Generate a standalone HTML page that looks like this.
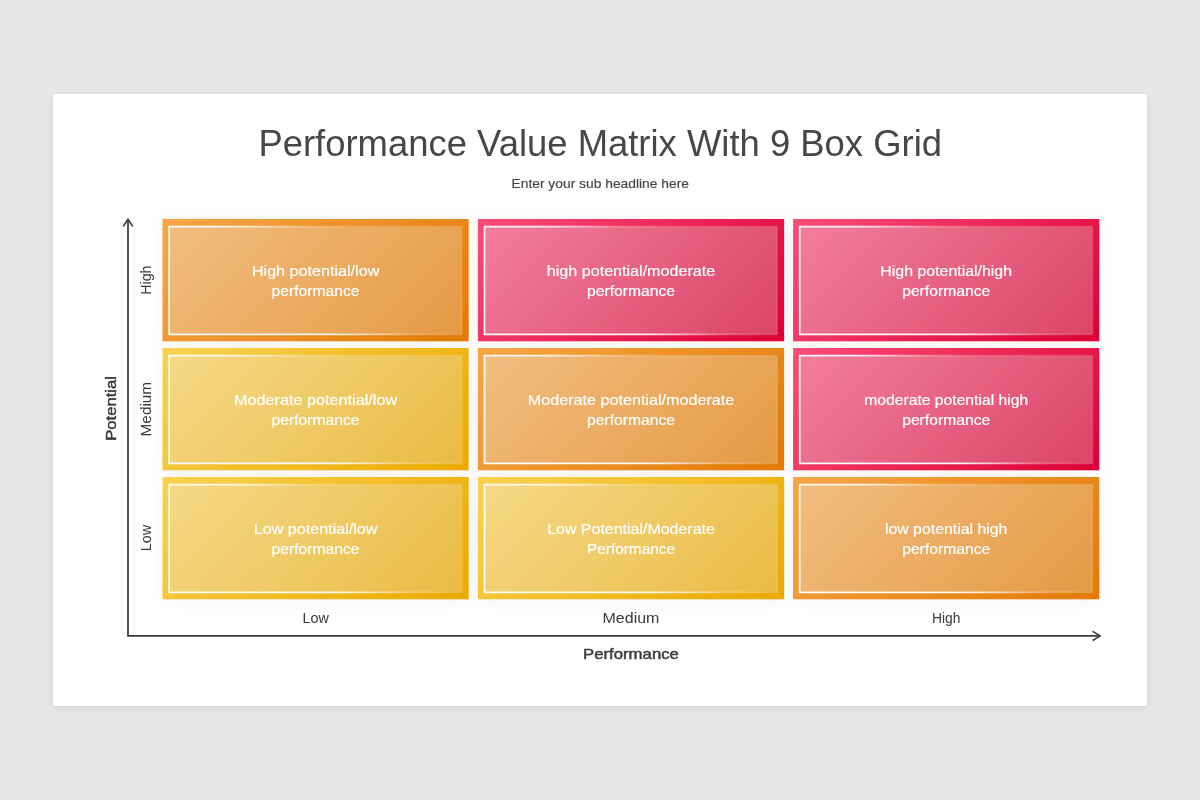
<!DOCTYPE html>
<html><head><meta charset="utf-8"><style>
html,body{margin:0;padding:0;}
body{width:1200px;height:800px;background:#e8e6e7;position:relative;overflow:hidden;}
.slide{position:absolute;left:53px;top:94px;width:1094px;height:612px;background:#fff;box-shadow:0 2px 7px rgba(0,0,0,0.10);}
svg{position:absolute;left:0;top:0;will-change:transform;}
text{font-family:"Liberation Sans",sans-serif;}
.bt{font-size:15.2px;fill:#fff;stroke:#fff;stroke-width:0.2px;}
.lb{font-size:14.6px;fill:#3a3a3a;}
.bl{font-size:14.6px;font-weight:normal;fill:#3a3a3a;stroke:#3a3a3a;stroke-width:0.45px;}
.ti{font-size:36px;fill:#474747;}
.st{font-size:12.6px;fill:#454545;stroke:#454545;stroke-width:0.15px;}
</style></head><body>
<div class="slide"></div>
<svg width="1200" height="800" viewBox="0 0 1200 800">
<defs><filter id="sh" x="-20%" y="-30%" width="140%" height="160%"><feGaussianBlur stdDeviation="9"/></filter><linearGradient id="b00o" gradientUnits="userSpaceOnUse" x1="162.50" y1="219.00" x2="376.75" y2="433.25"><stop offset="0" stop-color="#f7a646" stop-opacity="1"/><stop offset="1" stop-color="#e27a06" stop-opacity="1"/></linearGradient><linearGradient id="b00i" gradientUnits="userSpaceOnUse" x1="169.10" y1="226.60" x2="369.35" y2="426.85"><stop offset="0" stop-color="#f2bd80" stop-opacity="1"/><stop offset="1" stop-color="#e49a44" stop-opacity="1"/></linearGradient><linearGradient id="b00w" gradientUnits="userSpaceOnUse" x1="169.10" y1="334.40" x2="369.35" y2="134.15"><stop offset="0" stop-color="#fff" stop-opacity="1"/><stop offset="0.4" stop-color="#fff" stop-opacity="0.95"/><stop offset="0.5" stop-color="#fff" stop-opacity="0.65"/><stop offset="0.6" stop-color="#fff" stop-opacity="0.3"/><stop offset="0.72" stop-color="#fff" stop-opacity="0.14"/><stop offset="1" stop-color="#fff" stop-opacity="0.1"/></linearGradient><linearGradient id="b01o" gradientUnits="userSpaceOnUse" x1="477.90" y1="219.00" x2="692.15" y2="433.25"><stop offset="0" stop-color="#fc4c75" stop-opacity="1"/><stop offset="1" stop-color="#dc0036" stop-opacity="1"/></linearGradient><linearGradient id="b01i" gradientUnits="userSpaceOnUse" x1="484.50" y1="226.60" x2="684.75" y2="426.85"><stop offset="0" stop-color="#f27f9b" stop-opacity="1"/><stop offset="1" stop-color="#db4468" stop-opacity="1"/></linearGradient><linearGradient id="b01w" gradientUnits="userSpaceOnUse" x1="484.50" y1="334.40" x2="684.75" y2="134.15"><stop offset="0" stop-color="#fff" stop-opacity="1"/><stop offset="0.4" stop-color="#fff" stop-opacity="0.95"/><stop offset="0.5" stop-color="#fff" stop-opacity="0.65"/><stop offset="0.6" stop-color="#fff" stop-opacity="0.3"/><stop offset="0.72" stop-color="#fff" stop-opacity="0.14"/><stop offset="1" stop-color="#fff" stop-opacity="0.1"/></linearGradient><linearGradient id="b02o" gradientUnits="userSpaceOnUse" x1="793.10" y1="219.00" x2="1007.35" y2="433.25"><stop offset="0" stop-color="#fc4c75" stop-opacity="1"/><stop offset="1" stop-color="#dc0036" stop-opacity="1"/></linearGradient><linearGradient id="b02i" gradientUnits="userSpaceOnUse" x1="799.70" y1="226.60" x2="999.95" y2="426.85"><stop offset="0" stop-color="#f27f9b" stop-opacity="1"/><stop offset="1" stop-color="#db4468" stop-opacity="1"/></linearGradient><linearGradient id="b02w" gradientUnits="userSpaceOnUse" x1="799.70" y1="334.40" x2="999.95" y2="134.15"><stop offset="0" stop-color="#fff" stop-opacity="1"/><stop offset="0.4" stop-color="#fff" stop-opacity="0.95"/><stop offset="0.5" stop-color="#fff" stop-opacity="0.65"/><stop offset="0.6" stop-color="#fff" stop-opacity="0.3"/><stop offset="0.72" stop-color="#fff" stop-opacity="0.14"/><stop offset="1" stop-color="#fff" stop-opacity="0.1"/></linearGradient><linearGradient id="b10o" gradientUnits="userSpaceOnUse" x1="162.50" y1="348.00" x2="376.75" y2="562.25"><stop offset="0" stop-color="#fad250" stop-opacity="1"/><stop offset="1" stop-color="#eaa900" stop-opacity="1"/></linearGradient><linearGradient id="b10i" gradientUnits="userSpaceOnUse" x1="169.10" y1="355.60" x2="369.35" y2="555.85"><stop offset="0" stop-color="#f5d987" stop-opacity="1"/><stop offset="1" stop-color="#eabb44" stop-opacity="1"/></linearGradient><linearGradient id="b10w" gradientUnits="userSpaceOnUse" x1="169.10" y1="463.40" x2="369.35" y2="263.15"><stop offset="0" stop-color="#fff" stop-opacity="1"/><stop offset="0.4" stop-color="#fff" stop-opacity="0.95"/><stop offset="0.5" stop-color="#fff" stop-opacity="0.65"/><stop offset="0.6" stop-color="#fff" stop-opacity="0.3"/><stop offset="0.72" stop-color="#fff" stop-opacity="0.14"/><stop offset="1" stop-color="#fff" stop-opacity="0.1"/></linearGradient><linearGradient id="b11o" gradientUnits="userSpaceOnUse" x1="477.90" y1="348.00" x2="692.15" y2="562.25"><stop offset="0" stop-color="#f7a646" stop-opacity="1"/><stop offset="1" stop-color="#e27a06" stop-opacity="1"/></linearGradient><linearGradient id="b11i" gradientUnits="userSpaceOnUse" x1="484.50" y1="355.60" x2="684.75" y2="555.85"><stop offset="0" stop-color="#f2bd80" stop-opacity="1"/><stop offset="1" stop-color="#e49a44" stop-opacity="1"/></linearGradient><linearGradient id="b11w" gradientUnits="userSpaceOnUse" x1="484.50" y1="463.40" x2="684.75" y2="263.15"><stop offset="0" stop-color="#fff" stop-opacity="1"/><stop offset="0.4" stop-color="#fff" stop-opacity="0.95"/><stop offset="0.5" stop-color="#fff" stop-opacity="0.65"/><stop offset="0.6" stop-color="#fff" stop-opacity="0.3"/><stop offset="0.72" stop-color="#fff" stop-opacity="0.14"/><stop offset="1" stop-color="#fff" stop-opacity="0.1"/></linearGradient><linearGradient id="b12o" gradientUnits="userSpaceOnUse" x1="793.10" y1="348.00" x2="1007.35" y2="562.25"><stop offset="0" stop-color="#fc4c75" stop-opacity="1"/><stop offset="1" stop-color="#dc0036" stop-opacity="1"/></linearGradient><linearGradient id="b12i" gradientUnits="userSpaceOnUse" x1="799.70" y1="355.60" x2="999.95" y2="555.85"><stop offset="0" stop-color="#f27f9b" stop-opacity="1"/><stop offset="1" stop-color="#db4468" stop-opacity="1"/></linearGradient><linearGradient id="b12w" gradientUnits="userSpaceOnUse" x1="799.70" y1="463.40" x2="999.95" y2="263.15"><stop offset="0" stop-color="#fff" stop-opacity="1"/><stop offset="0.4" stop-color="#fff" stop-opacity="0.95"/><stop offset="0.5" stop-color="#fff" stop-opacity="0.65"/><stop offset="0.6" stop-color="#fff" stop-opacity="0.3"/><stop offset="0.72" stop-color="#fff" stop-opacity="0.14"/><stop offset="1" stop-color="#fff" stop-opacity="0.1"/></linearGradient><linearGradient id="b20o" gradientUnits="userSpaceOnUse" x1="162.50" y1="477.00" x2="376.75" y2="691.25"><stop offset="0" stop-color="#fad250" stop-opacity="1"/><stop offset="1" stop-color="#eaa900" stop-opacity="1"/></linearGradient><linearGradient id="b20i" gradientUnits="userSpaceOnUse" x1="169.10" y1="484.60" x2="369.35" y2="684.85"><stop offset="0" stop-color="#f5d987" stop-opacity="1"/><stop offset="1" stop-color="#eabb44" stop-opacity="1"/></linearGradient><linearGradient id="b20w" gradientUnits="userSpaceOnUse" x1="169.10" y1="592.40" x2="369.35" y2="392.15"><stop offset="0" stop-color="#fff" stop-opacity="1"/><stop offset="0.4" stop-color="#fff" stop-opacity="0.95"/><stop offset="0.5" stop-color="#fff" stop-opacity="0.65"/><stop offset="0.6" stop-color="#fff" stop-opacity="0.3"/><stop offset="0.72" stop-color="#fff" stop-opacity="0.14"/><stop offset="1" stop-color="#fff" stop-opacity="0.1"/></linearGradient><linearGradient id="b21o" gradientUnits="userSpaceOnUse" x1="477.90" y1="477.00" x2="692.15" y2="691.25"><stop offset="0" stop-color="#fad250" stop-opacity="1"/><stop offset="1" stop-color="#eaa900" stop-opacity="1"/></linearGradient><linearGradient id="b21i" gradientUnits="userSpaceOnUse" x1="484.50" y1="484.60" x2="684.75" y2="684.85"><stop offset="0" stop-color="#f5d987" stop-opacity="1"/><stop offset="1" stop-color="#eabb44" stop-opacity="1"/></linearGradient><linearGradient id="b21w" gradientUnits="userSpaceOnUse" x1="484.50" y1="592.40" x2="684.75" y2="392.15"><stop offset="0" stop-color="#fff" stop-opacity="1"/><stop offset="0.4" stop-color="#fff" stop-opacity="0.95"/><stop offset="0.5" stop-color="#fff" stop-opacity="0.65"/><stop offset="0.6" stop-color="#fff" stop-opacity="0.3"/><stop offset="0.72" stop-color="#fff" stop-opacity="0.14"/><stop offset="1" stop-color="#fff" stop-opacity="0.1"/></linearGradient><linearGradient id="b22o" gradientUnits="userSpaceOnUse" x1="793.10" y1="477.00" x2="1007.35" y2="691.25"><stop offset="0" stop-color="#f7a646" stop-opacity="1"/><stop offset="1" stop-color="#e27a06" stop-opacity="1"/></linearGradient><linearGradient id="b22i" gradientUnits="userSpaceOnUse" x1="799.70" y1="484.60" x2="999.95" y2="684.85"><stop offset="0" stop-color="#f2bd80" stop-opacity="1"/><stop offset="1" stop-color="#e49a44" stop-opacity="1"/></linearGradient><linearGradient id="b22w" gradientUnits="userSpaceOnUse" x1="799.70" y1="592.40" x2="999.95" y2="392.15"><stop offset="0" stop-color="#fff" stop-opacity="1"/><stop offset="0.4" stop-color="#fff" stop-opacity="0.95"/><stop offset="0.5" stop-color="#fff" stop-opacity="0.65"/><stop offset="0.6" stop-color="#fff" stop-opacity="0.3"/><stop offset="0.72" stop-color="#fff" stop-opacity="0.14"/><stop offset="1" stop-color="#fff" stop-opacity="0.1"/></linearGradient></defs>
<text x="258.4" y="155.7" textLength="683.6" lengthAdjust="spacingAndGlyphs" class="ti">Performance Value Matrix With 9 Box Grid</text>
<text x="511.5" y="188" textLength="177.5" lengthAdjust="spacingAndGlyphs" class="st">Enter your sub headline here</text>
<rect x="160.5" y="218.0" width="310.2" height="126.3" fill="#000" opacity="0.035" filter="url(#sh)"/><rect x="475.9" y="218.0" width="310.2" height="126.3" fill="#000" opacity="0.035" filter="url(#sh)"/><rect x="791.1" y="218.0" width="310.2" height="126.3" fill="#000" opacity="0.035" filter="url(#sh)"/><rect x="160.5" y="347.0" width="310.2" height="126.3" fill="#000" opacity="0.035" filter="url(#sh)"/><rect x="475.9" y="347.0" width="310.2" height="126.3" fill="#000" opacity="0.035" filter="url(#sh)"/><rect x="791.1" y="347.0" width="310.2" height="126.3" fill="#000" opacity="0.035" filter="url(#sh)"/><rect x="160.5" y="476.0" width="310.2" height="126.3" fill="#000" opacity="0.035" filter="url(#sh)"/><rect x="475.9" y="476.0" width="310.2" height="126.3" fill="#000" opacity="0.035" filter="url(#sh)"/><rect x="791.1" y="476.0" width="310.2" height="126.3" fill="#000" opacity="0.035" filter="url(#sh)"/><rect x="162.5" y="219.0" width="306.2" height="122.3" fill="url(#b00o)"/><rect x="169.1" y="226.6" width="292.7" height="107.8" fill="url(#b00i)" stroke="url(#b00w)" stroke-width="1.7"/><rect x="477.9" y="219.0" width="306.2" height="122.3" fill="url(#b01o)"/><rect x="484.5" y="226.6" width="292.7" height="107.8" fill="url(#b01i)" stroke="url(#b01w)" stroke-width="1.7"/><rect x="793.1" y="219.0" width="306.2" height="122.3" fill="url(#b02o)"/><rect x="799.7" y="226.6" width="292.7" height="107.8" fill="url(#b02i)" stroke="url(#b02w)" stroke-width="1.7"/><rect x="162.5" y="348.0" width="306.2" height="122.3" fill="url(#b10o)"/><rect x="169.1" y="355.6" width="292.7" height="107.8" fill="url(#b10i)" stroke="url(#b10w)" stroke-width="1.7"/><rect x="477.9" y="348.0" width="306.2" height="122.3" fill="url(#b11o)"/><rect x="484.5" y="355.6" width="292.7" height="107.8" fill="url(#b11i)" stroke="url(#b11w)" stroke-width="1.7"/><rect x="793.1" y="348.0" width="306.2" height="122.3" fill="url(#b12o)"/><rect x="799.7" y="355.6" width="292.7" height="107.8" fill="url(#b12i)" stroke="url(#b12w)" stroke-width="1.7"/><rect x="162.5" y="477.0" width="306.2" height="122.3" fill="url(#b20o)"/><rect x="169.1" y="484.6" width="292.7" height="107.8" fill="url(#b20i)" stroke="url(#b20w)" stroke-width="1.7"/><rect x="477.9" y="477.0" width="306.2" height="122.3" fill="url(#b21o)"/><rect x="484.5" y="484.6" width="292.7" height="107.8" fill="url(#b21i)" stroke="url(#b21w)" stroke-width="1.7"/><rect x="793.1" y="477.0" width="306.2" height="122.3" fill="url(#b22o)"/><rect x="799.7" y="484.6" width="292.7" height="107.8" fill="url(#b22i)" stroke="url(#b22w)" stroke-width="1.7"/>
<text x="251.90" y="275.50" textLength="127.4" lengthAdjust="spacingAndGlyphs" class="bt">High potential/low</text><text x="271.60" y="295.90" textLength="88.0" lengthAdjust="spacingAndGlyphs" class="bt">performance</text><text x="546.80" y="275.50" textLength="168.39999999999998" lengthAdjust="spacingAndGlyphs" class="bt">high potential/moderate</text><text x="587.00" y="295.90" textLength="88.0" lengthAdjust="spacingAndGlyphs" class="bt">performance</text><text x="880.35" y="275.50" textLength="131.7" lengthAdjust="spacingAndGlyphs" class="bt">High potential/high</text><text x="902.20" y="295.90" textLength="88.0" lengthAdjust="spacingAndGlyphs" class="bt">performance</text><text x="234.00" y="404.50" textLength="163.2" lengthAdjust="spacingAndGlyphs" class="bt">Moderate potential/low</text><text x="271.60" y="424.90" textLength="88.0" lengthAdjust="spacingAndGlyphs" class="bt">performance</text><text x="527.75" y="404.50" textLength="206.5" lengthAdjust="spacingAndGlyphs" class="bt">Moderate potential/moderate</text><text x="587.00" y="424.90" textLength="88.0" lengthAdjust="spacingAndGlyphs" class="bt">performance</text><text x="864.25" y="404.50" textLength="163.89999999999998" lengthAdjust="spacingAndGlyphs" class="bt">moderate potential high</text><text x="902.20" y="424.90" textLength="88.0" lengthAdjust="spacingAndGlyphs" class="bt">performance</text><text x="253.75" y="533.50" textLength="123.7" lengthAdjust="spacingAndGlyphs" class="bt">Low potential/low</text><text x="271.60" y="553.90" textLength="88.0" lengthAdjust="spacingAndGlyphs" class="bt">performance</text><text x="547.15" y="533.50" textLength="167.7" lengthAdjust="spacingAndGlyphs" class="bt">Low Potential/Moderate</text><text x="587.00" y="553.90" textLength="88.0" lengthAdjust="spacingAndGlyphs" class="bt">Performance</text><text x="884.95" y="533.50" textLength="122.5" lengthAdjust="spacingAndGlyphs" class="bt">low potential high</text><text x="902.20" y="553.90" textLength="88.0" lengthAdjust="spacingAndGlyphs" class="bt">performance</text>
<text x="302.45" y="622.9" textLength="26.3" lengthAdjust="spacingAndGlyphs" class="lb">Low</text><text x="602.55" y="622.9" textLength="56.9" lengthAdjust="spacingAndGlyphs" class="lb">Medium</text><text x="931.95" y="622.9" textLength="28.5" lengthAdjust="spacingAndGlyphs" class="lb">High</text><text transform="translate(151.2 294.80) rotate(-90)" x="0" y="0" textLength="29.3" lengthAdjust="spacingAndGlyphs" class="lb">High</text><text transform="translate(151.2 436.40) rotate(-90)" x="0" y="0" textLength="54.5" lengthAdjust="spacingAndGlyphs" class="lb">Medium</text><text transform="translate(151.2 551.30) rotate(-90)" x="0" y="0" textLength="26.3" lengthAdjust="spacingAndGlyphs" class="lb">Low</text><text transform="translate(116.3 440.8) rotate(-90)" x="0" y="0" textLength="64.7" lengthAdjust="spacingAndGlyphs" class="bl">Potential</text><text x="583" y="659" textLength="95.9" lengthAdjust="spacingAndGlyphs" class="bl">Performance</text>
<path d="M128 219.6 V636" stroke="#3a3a3a" stroke-width="1.7" fill="none"/>
<path d="M127.2 635.9 H1099.6" stroke="#3a3a3a" stroke-width="1.7" fill="none"/>
<path d="M123.6 225.9 L128 219.2 L132.3 225.9" stroke="#3a3a3a" stroke-width="1.6" fill="none" stroke-linecap="round" stroke-linejoin="round"/>
<path d="M1093.1 631.6 L1100.2 635.9 L1093.1 640.2" stroke="#3a3a3a" stroke-width="1.6" fill="none" stroke-linecap="round" stroke-linejoin="round"/>
</svg>
</body></html>
